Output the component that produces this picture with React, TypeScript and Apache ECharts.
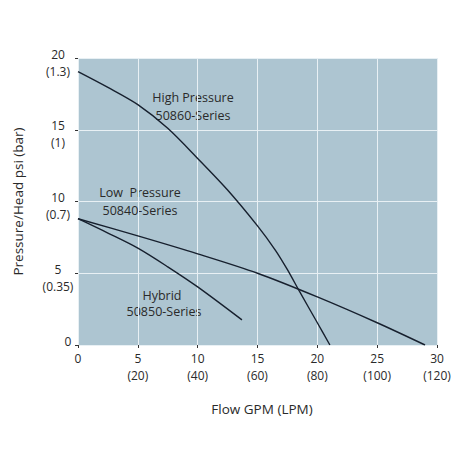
import React, { useEffect, useRef } from "react";
import * as echarts from "echarts";

const highFlow = [0, 2.5, 5, 7.5, 10, 12.5, 15, 16.5, 17.5, 18.5, 20, 21.05];
const highHead = [19.05, 17.95, 16.75, 15.1, 13.0, 10.8, 8.3, 6.6, 5.25, 3.75, 1.55, 0];

const lowFlow = [0, 5, 10, 15, 20, 25, 29];
const lowHead = [8.8, 7.6, 6.35, 5.0, 3.35, 1.55, 0];

const hybridFlow = [0, 2.5, 5, 7.5, 10, 13.7];
const hybridHead = [8.8, 7.8, 6.75, 5.45, 4.05, 1.75];

const xTickGpm = [0, 5, 10, 15, 20, 25, 30];
const xTickLpm = ["", "(20)", "(40)", "(60)", "(80)", "(100)", "(120)"];
const yTickPsi = [0, 5, 10, 15, 20];
const yTickBar = ["", "(0.35)", "(0.7)", "(1)", "(1.3)"];

const FONT = "Open Sans";
const TXT = "#2a2a2a";
const LINE = "#17202e";

function pairs(xs: number[], ys: number[]) {
  return xs.map((x, i) => [x, ys[i]]);
}

export default function App() {
  const ref = useRef<HTMLDivElement>(null);
  useEffect(() => {
    if (!ref.current) return;
    const chart = echarts.init(ref.current, undefined, { renderer: "svg" });
    const lineSeries = (name: string, data: number[][]) => ({
      name,
      type: "line",
      data,
      smooth: 0.3,
      symbol: "none",
      lineStyle: { color: LINE, width: 1.4 },
    });
    const ann = (text: string, x: number, y: number) => ({
      type: "text",
      x,
      y,
      style: {
        text,
        fill: TXT,
        font: `12.5px "${FONT}"`,
        textAlign: "center",
        textVerticalAlign: "middle",
      },
    });
    chart.setOption({
      animation: false,
      grid: {
        left: 78,
        right: 28,
        top: 58,
        bottom: 120,
        show: true,
        backgroundColor: "#adc5d1",
        borderWidth: 0,
      },
      xAxis: {
        type: "value",
        min: 0,
        max: 30,
        interval: 5,
        name: "Flow GPM (LPM)",
        nameLocation: "middle",
        nameGap: 64,
        nameTextStyle: {
          fontFamily: FONT,
          fontSize: 13.5,
          color: TXT,
          verticalAlign: "middle",
          padding: [0, 0, 0, 9],
        },
        axisLine: { show: false },
        axisTick: { show: true, length: 3, lineStyle: { color: "#333" } },
        splitLine: { show: true, lineStyle: { color: "#e8f0f4", width: 1 } },
        axisLabel: {
          margin: 5,
          fontFamily: FONT,
          fontSize: 12,
          color: TXT,
          lineHeight: 17,
          formatter: (v: number) => {
            const i = xTickGpm.indexOf(v);
            if (i < 0) return "";
            return xTickLpm[i] ? `${v}\n${xTickLpm[i]}` : `${v}`;
          },
        },
      },
      yAxis: {
        type: "value",
        min: 0,
        max: 20,
        interval: 5,
        name: "Pressure/Head psi (bar)",
        nameLocation: "middle",
        nameGap: 60,
        nameRotate: 90,
        nameTextStyle: {
          fontFamily: FONT,
          fontSize: 13.5,
          color: TXT,
          verticalAlign: "middle",
        },
        axisLine: { show: false },
        axisTick: { show: true, length: 3, lineStyle: { color: "#333" } },
        splitLine: { show: true, lineStyle: { color: "#e8f0f4", width: 1 } },
        axisLabel: {
          margin: 20,
          align: "center",
          fontFamily: FONT,
          fontSize: 12,
          color: TXT,
          lineHeight: 17,
          padding: [9, 0, 0, 0],
          formatter: (v: number) => {
            const i = yTickPsi.indexOf(v);
            if (i < 0) return "";
            if (!yTickBar[i]) return `{z|${v}}\n{e| }`;
            return `${v}\n${yTickBar[i]}`;
          },
          rich: {
            z: { padding: [0, 0, 0, 20], fontFamily: FONT, fontSize: 12, color: TXT, lineHeight: 17 },
            e: { fontFamily: FONT, fontSize: 12, lineHeight: 17 },
          },
        },
      },
      series: [
        lineSeries("High Pressure", pairs(highFlow, highHead)),
        lineSeries("Low Pressure", pairs(lowFlow, lowHead)),
        lineSeries("Hybrid", pairs(hybridFlow, hybridHead)),
      ],
      graphic: [
        ann("High Pressure", 193, 97),
        ann("50860-Series", 193, 115),
        ann("Low  Pressure", 140, 192),
        ann("50840-Series", 140, 210),
        ann("Hybrid", 162, 295),
        ann("50850-Series", 164, 311),
      ],
    });
    return () => chart.dispose();
  }, []);
  return (
    <div
      ref={ref}
      style={{ position: "fixed", left: 0, top: 0, width: 465, height: 465, background: "#fff" }}
    />
  );
}
